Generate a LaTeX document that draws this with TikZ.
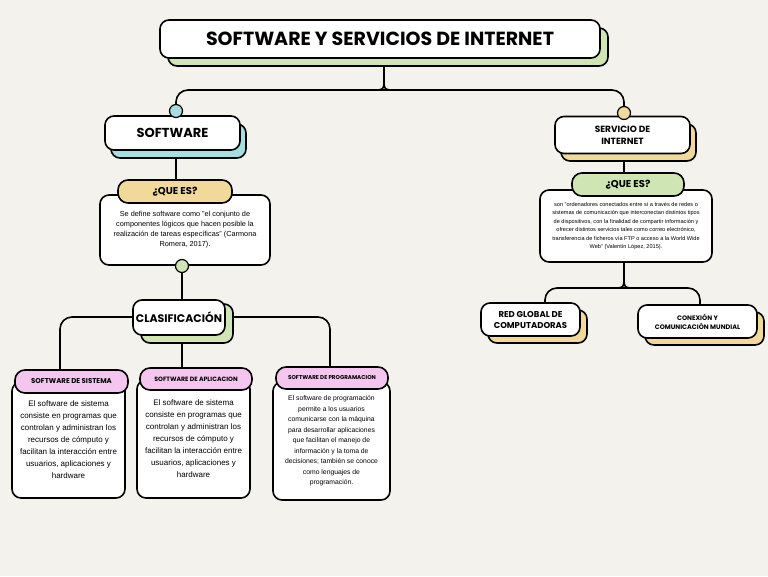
\documentclass[tikz,border=0pt]{standalone}
\usepackage{fontspec}
\setmainfont{Liberation Sans}
\newfontfamily\hand{Poppins}
\begin{document}
\begin{tikzpicture}[x=1pt,y=-1pt,line width=1.6pt,
  box/.style={draw=black,fill=white,rounded corners=9pt,align=center,inner sep=2pt},
  pill/.style={draw=black,rounded corners=10pt,align=center,inner sep=1pt,font=\hand\bfseries},
  body/.style={font=\fontsize{7.3}{10}\selectfont},
  tiny/.style={font=\fontsize{5.6}{8.4}\selectfont},
  dot/.style={circle,draw=black,line width=1.2pt,minimum size=13pt,inner sep=0pt},
  conn/.style={draw=black,line width=1.6pt,rounded corners=12pt}]
\definecolor{bg}{HTML}{F4F2EC}
\definecolor{cgreen}{HTML}{CFE6B4}
\definecolor{ccyan}{HTML}{A5DDE0}
\definecolor{cyel}{HTML}{F1D99A}
\definecolor{cpink}{HTML}{F4C5EE}
\fill[bg] (0,0) rectangle (768,576);
\useasboundingbox (0,0) rectangle (768,576);
% connectors
\coordinate (tb) at (384,58);
\draw[conn] (176,111) -- (176,90) -- (624,90) -- (624,113);
\draw[draw=black] (tb) -- (384,78) .. controls (384,90) .. (372,90);
\draw[draw=black] (384,78) .. controls (384,90) .. (396,90);
\draw[conn] (176,150) -- (176,185);
\draw[conn] (182,266) -- (182,305);
\draw[conn] (60,372) -- (60,317) -- (330,317) -- (330,370);
\draw[conn] (182,335) -- (182,370);
\draw[conn] (624,155) -- (624,176);
\draw[conn] (545,306) -- (545,288) -- (700,288) -- (700,308);
\draw[draw=black] (624,260) -- (624,276) .. controls (624,288) .. (612,288);
\draw[draw=black] (624,276) .. controls (624,288) .. (636,288);
% title
\draw[fill=cgreen,rounded corners=9pt] (168,28) rectangle (608,66);
\node[box,minimum width=440pt,minimum height=38pt,font=\hand\bfseries\fontsize{19}{20}\selectfont] (title) at (380,39) {SOFTWARE Y SERVICIOS DE INTERNET};
% software
\draw[fill=ccyan,rounded corners=9pt] (111,124) rectangle (246,158);
\node[box,minimum width=135pt,minimum height=34pt,font=\hand\bfseries\fontsize{13}{14}\selectfont] (sw) at (172.5,133) {SOFTWARE};
\node[dot,fill=ccyan] (d1) at (176,111) {};
% servicio
\draw[fill=cyel,rounded corners=9pt] (561,124) rectangle (696,161);
\node[box,minimum width=135pt,minimum height=37pt,font=\hand\bfseries\fontsize{9}{12}\selectfont] (si) at (622.5,135) {SERVICIO DE\\INTERNET};
\node[dot,fill=cyel] (d2) at (624,113) {};
% def box
\node[box,minimum width=170pt,minimum height=70pt,body] (def) at (185,230) {Se define software como "el conjunto de\\componentes lógicos que hacen posible la\\realización de tareas específicas" (Carmona\\Romera, 2017).};
\node[pill,fill=cyel,minimum width=114pt,minimum height=23pt,font=\hand\bfseries\fontsize{10}{11}\selectfont] (q1) at (175,191.5) {¿QUE ES?};
\node[dot,fill=cgreen] (d3) at (182,266) {};
% clasificacion
\draw[fill=cgreen,rounded corners=9pt] (141,304) rectangle (233,343);
\node[box,minimum width=92pt,minimum height=35pt,font=\hand\bfseries\fontsize{11}{12}\selectfont] (cl) at (179,317.5) {CLASIFICACIÓN};
% right info
\node[box,minimum width=172pt,minimum height=72pt,tiny] (inf) at (626,226) {son "ordenadores conectados entre sí a través de redes o\\sistemas de comunicación que interconectan distintos tipos\\de dispositivos, con la finalidad de compartir información y\\ofrecer distintos servicios tales como correo electrónico,\\transferencia de ficheros vía FTP o acceso a la World Wide\\Web" (Valentín López, 2015).};
\node[pill,fill=cgreen,minimum width=112pt,minimum height=23pt,font=\hand\bfseries\fontsize{10}{11}\selectfont] (q2) at (628,184.5) {¿QUE ES?};
% red global
\draw[fill=cyel,rounded corners=9pt] (488,310) rectangle (587,343);
\node[box,minimum width=99pt,minimum height=33pt,font=\hand\bfseries\fontsize{8.5}{11}\selectfont] (rg) at (530.5,319.5) {RED GLOBAL DE\\COMPUTADORAS};
\draw[fill=cyel,rounded corners=9pt] (645,312) rectangle (764,345);
\node[box,minimum width=119pt,minimum height=33pt,font=\hand\bfseries\fontsize{6.5}{9}\selectfont] (cm) at (697.5,321.5) {CONEXIÓN Y\\COMUNICACIÓN MUNDIAL};
% bottom boxes
\node[box,minimum width=113pt,minimum height=116pt,font=\fontsize{8}{12}\selectfont] (b1) at (68.5,440) {El software de sistema\\consiste en programas que\\controlan y administran los\\recursos de cómputo y\\facilitan la interacción entre\\usuarios, aplicaciones y\\hardware};
\node[box,minimum width=113pt,minimum height=118pt,font=\fontsize{8}{12}\selectfont] (b2) at (193.5,439) {El software de sistema\\consiste en programas que\\controlan y administran los\\recursos de cómputo y\\facilitan la interacción entre\\usuarios, aplicaciones y\\hardware};
\node[box,minimum width=117pt,minimum height=118pt,font=\fontsize{6.8}{10.5}\selectfont] (b3) at (331.5,441) {El software de programación\\permite a los usuarios\\comunicarse con la máquina\\para desarrollar aplicaciones\\que facilitan el manejo de\\información y la toma de\\decisiones; también se conoce\\como lenguajes de\\programación.};
\node[pill,fill=cpink,minimum width=113pt,minimum height=23pt,font=\hand\bfseries\fontsize{7}{8}\selectfont] (p1) at (71.5,381.5) {SOFTWARE DE SISTEMA};
\node[pill,fill=cpink,minimum width=112pt,minimum height=22pt,font=\hand\bfseries\fontsize{6.2}{8}\selectfont] (p2) at (196,379) {SOFTWARE DE APLICACION};
\node[pill,fill=cpink,minimum width=112pt,minimum height=22pt,font=\hand\bfseries\fontsize{5.6}{8}\selectfont] (p3) at (332,378) {SOFTWARE DE PROGRAMACION};
\end{tikzpicture}
\end{document}
